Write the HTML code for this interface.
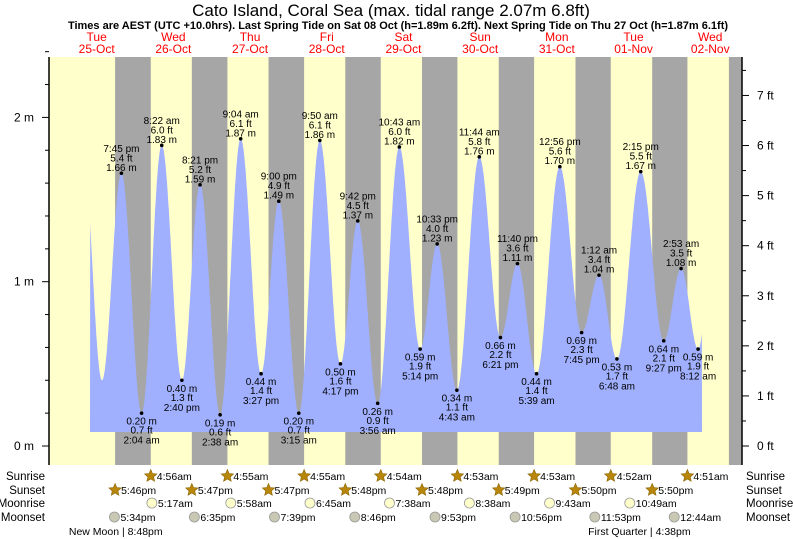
<!DOCTYPE html>
<html><head><meta charset="utf-8">
<style>
html,body{margin:0;padding:0;background:#fff;}
svg{display:block;font-family:"Liberation Sans",sans-serif;}
</style></head>
<body>
<svg id="chart" width="793" height="539" viewBox="0 0 793 539" xmlns="http://www.w3.org/2000/svg">
<text x="391" y="16" font-size="17" text-anchor="middle" fill="#000">Cato Island, Coral Sea (max. tidal range 2.07m 6.8ft)</text>
<text x="398" y="29" font-size="11" font-weight="bold" text-anchor="middle" fill="#000">Times are AEST (UTC +10.0hrs). Last Spring Tide on Sat 08 Oct (h=1.89m 6.2ft). Next Spring Tide on Thu 27 Oct (h=1.87m 6.1ft)</text>
<g id="bg"></g>
<g id="fill"></g>
<g id="axes"></g>
<g id="labels"></g>
<g id="days"></g>
<g id="astro"></g>
</svg>
<script>
// ---- data ----
const dayNames = ["Tue","Wed","Thu","Fri","Sat","Sun","Mon","Tue","Wed"];
const dayDates = ["25-Oct","26-Oct","27-Oct","28-Oct","29-Oct","30-Oct","31-Oct","01-Nov","02-Nov"];
// tide extremes: day index (0 = 25 Oct), time, height (m); first/last entries are off-chart estimates
const tideDay = [0,0,0,1,1,1,1,2,2,2,2,3,3,3,3,4,4,4,4,5,5,5,5,6,6,6,7,7,7,7,8,8,8,8];
const tideTime = ["07:40","13:40","19:45","02:04","08:22","14:40","20:21","02:38","09:04","15:27","21:00","03:15","09:50","16:17","21:42","03:56","10:43","17:14","22:33","04:43","11:44","18:21","23:40","05:39","12:56","19:45","01:12","06:48","14:15","21:27","02:53","08:12","14:20","20:30"];
const tideHeight = [1.80,0.40,1.66,0.20,1.83,0.40,1.59,0.19,1.87,0.44,1.49,0.20,1.86,0.50,1.37,0.26,1.82,0.59,1.23,0.34,1.76,0.66,1.11,0.44,1.70,0.69,1.04,0.53,1.67,0.64,1.08,0.59,1.60,0.60];
const labelFrom = 2, labelTo = 31;
const sunriseDay = [1,2,3,4,5,6,7,8];
const sunriseTime = ["04:56","04:55","04:55","04:54","04:53","04:53","04:52","04:51"];
const sunsetDay = [0,1,2,3,4,5,6,7,8];
const sunsetTime = ["17:46","17:47","17:47","17:48","17:48","17:49","17:50","17:50","17:50"];
const moonriseDay = [1,2,3,4,5,6,7];
const moonriseTime = ["05:17","05:58","06:45","07:38","08:38","09:43","10:49"];
const moonsetDay = [0,1,2,3,4,5,6,8];
const moonsetTime = ["17:34","18:35","19:39","20:46","21:53","22:56","23:53","00:44"];
const phaseName = ["New Moon","First Quarter"];
const phaseDay = [0,7];
const phaseTime = ["20:48","16:38"];
const mTicks = [0,1,2];
const ftTicks = [0,1,2,3,4,5,6,7];

// ---- scales ----
const X0 = 58.3, DAYW = 76.7, PL = 49, PR = 742, PT = 57, PB = 465;
const xs = h => X0 + h * DAYW / 24;
const ys = m => 446 - m * 164.3;
const hrs = (d, t) => { const [a,b] = t.split(":").map(Number); return d*24 + a + b/60; };
const NS = "http://www.w3.org/2000/svg";
function mk(tag, attrs, parent, txt){ const e=document.createElementNS(NS,tag); for(const k in attrs) e.setAttribute(k,attrs[k]); if(txt!==undefined) e.textContent=txt; parent.appendChild(e); return e; }
function fmt12(t, sp){ let [a,b]=t.split(":").map(Number); const ap=a>=12?"pm":"am"; let h=a%12; if(h===0)h=12; return h+":"+String(b).padStart(2,"0")+(sp?" ":"")+ap; }

// ---- background ----
const bg = document.getElementById("bg");
let r = mk("rect",{x:PL,y:PT,width:PR-PL,height:PB-PT,fill:"#ffffcc"},bg);


for(let i=0;i<sunsetDay.length;i++){
  const s = xs(hrs(sunsetDay[i],sunsetTime[i]));
  const e = i<sunriseDay.length ? xs(hrs(sunriseDay[i],sunriseTime[i])) : PR;
  const n = mk("rect",{x:s,y:PT,width:Math.min(e,PR)-s,height:PB-PT,fill:"#a6a6a6"},bg);
  
  
}

// ---- tide curve ----
const ext = tideTime.map((t,i)=>({h:hrs(tideDay[i],t),m:tideHeight[i]}));
const FX0 = 90, FX1 = 702, FB = 432;
let pts = [];
for(let i=0;i<ext.length-1;i++){
  const a=ext[i], b=ext[i+1];
  for(let h=a.h; h<b.h; h+=0.1){
    const x=xs(h); if(x<FX0||x>FX1) continue;
    const f=(1-Math.cos(Math.PI*(h-a.h)/(b.h-a.h)))/2;
    pts.push([x, ys(a.m+(b.m-a.m)*f)]);
  }
}
let d = "M"+FX0+","+FB+" "+pts.map(p=>"L"+p[0].toFixed(1)+","+p[1].toFixed(1)).join(" ")+" L"+FX1+","+FB+"Z";
const area = mk("path",{d:d,fill:"#a0b0ff"},document.getElementById("fill"));



// ---- axes ----
const ax = document.getElementById("axes");
mk("line",{x1:PL,y1:PT,x2:PL,y2:PB,stroke:"#000","stroke-width":1.5},ax);
mk("line",{x1:PR,y1:PT,x2:PR,y2:PB,stroke:"#000","stroke-width":1.5},ax);
for(let v=0; v<=2.41; v+=0.2){
  const y=ys(v); const major=Math.abs(v-Math.round(v))<0.01;
  mk("line",{x1:PL-(major?7:4),y1:y,x2:PL,y2:y,stroke:"#000"},ax);
}
mTicks.forEach(v=>{
  const t=mk("text",{x:34,y:ys(v)+4,"font-size":12,"text-anchor":"end"},ax,v+" m");
  
  
});
for(let f=0; f<=7.51; f+=0.5){
  const y=ys(f*0.3048); const major=Math.abs(f-Math.round(f))<0.01;
  mk("line",{x1:PR,y1:y,x2:PR+(major?7:4),y2:y,stroke:"#000"},ax);
}
ftTicks.forEach(v=>{
  const t=mk("text",{x:757,y:ys(v*0.3048)+4,"font-size":12},ax,v+" ft");
  
  
});

// ---- extreme labels ----
const lb = document.getElementById("labels");
for(let i=labelFrom;i<=labelTo;i++){
  const x=xs(ext[i].h), y=ys(ext[i].m);
  const isHigh = (i===0||ext[i].m>ext[i-1].m);
  const dot=mk("circle",{cx:x,cy:y,r:1.8,fill:"#000"},lb);
  
  
  const ft=(ext[i].m*3.28084).toFixed(1)+" ft", m=ext[i].m.toFixed(2)+" m", tm=fmt12(tideTime[i],true);
  const lines = isHigh ? [[tm,-21.5],[ft,-12],[m,-2.5]] : [[m,11.5],[ft,20.5],[tm,30.5]];
  lines.forEach(l=>{
    const t=mk("text",{x:x,y:y+l[1],"font-size":10,"text-anchor":"middle",fill:"#000"},lb,l[0]);
    
    
  });
}

// ---- day labels ----
const dg = document.getElementById("days");
dayNames.forEach((n,i)=>{
  const x=xs(i*24+12);
  const t1=mk("text",{x:x,y:41,"font-size":12,fill:"#ff0000","text-anchor":"middle"},dg,n);
  
  
  const t2=mk("text",{x:x,y:53,"font-size":12,fill:"#ff0000","text-anchor":"middle"},dg,dayDates[i]);
  
  
});

// ---- astronomy rows ----
const ag = document.getElementById("astro");
const rowY = [476,490,503,517];
["Sunrise","Sunset","Moonrise","Moonset"].forEach((n,i)=>{
  const a=mk("text",{x:45,y:rowY[i]+4,"font-size":11.5,"text-anchor":"end"},ag,n);
  
  
  const b=mk("text",{x:746,y:rowY[i]+4,"font-size":11.5},ag,n);
  
  
});
function star(cx,cy){
  let p=[]; for(let k=0;k<10;k++){const rr=k%2?3:6.5, a=-Math.PI/2+k*Math.PI/5; p.push((cx+rr*Math.cos(a)).toFixed(1)+","+(cy+rr*Math.sin(a)).toFixed(1));}
  return mk("polygon",{points:p.join(" "),fill:"#b8860b",stroke:"#8a6400","stroke-width":0.6},ag);
}
function row(days,times,yy,kind){
  days.forEach((dd,i)=>{
    const x=xs(hrs(dd,times[i]));
    if(x>PR) return;
    let ic;
    if(kind==="sun") ic=star(x,yy);
    else ic=mk("circle",{cx:x,cy:yy,r:5,fill:kind==="mr"?"#ffffcc":"#c8c8b4",stroke:"#999","stroke-width":0.8},ag);
    
    
    const t=mk("text",{x:x+6,y:yy+4,"font-size":10.5},ag,fmt12(times[i],false));
    
    
  });
}
row(sunriseDay,sunriseTime,rowY[0],"sun");
row(sunsetDay.slice(0,8),sunsetTime.slice(0,8),rowY[1],"sun");
row(moonriseDay,moonriseTime,rowY[2],"mr");
row(moonsetDay,moonsetTime,rowY[3],"ms");
phaseName.forEach((n,i)=>{
  const x=xs(hrs(phaseDay[i],phaseTime[i]))-9;
  const t=mk("text",{x:x,y:535,"font-size":10.5,"text-anchor":"middle"},ag,n+" | "+fmt12(phaseTime[i],false));
  
  
});
</script>
</body></html>
